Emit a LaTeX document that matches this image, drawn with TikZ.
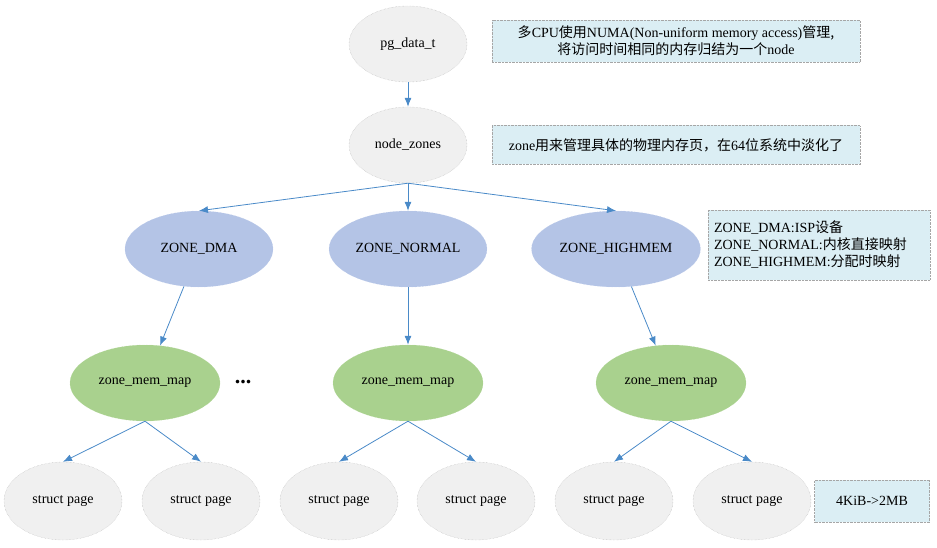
\documentclass[tikz,border=0pt]{standalone}
\usepackage{fontspec}
\setmainfont{Liberation Serif}
\newfontfamily\cjk{Noto Sans CJK SC}
\usetikzlibrary{shapes.geometric,arrows.meta}
\definecolor{arrowblue}{HTML}{4A8AC8}
\definecolor{zoneblue}{HTML}{B4C4E6}
\definecolor{mapgreen}{HTML}{A9D18E}
\definecolor{notefill}{HTML}{DBEEF4}
\tikzset{
  elli/.style={ellipse, draw=gray!60, densely dotted, fill=gray!12, minimum width=118pt, minimum height=76pt, font=\fontsize{14}{16}\selectfont},
  zone/.style={elli, fill=zoneblue, draw=zoneblue, minimum width=148pt},
  map/.style={elli, fill=mapgreen, draw=mapgreen, minimum width=150pt},
  page/.style={elli, minimum height=78pt},
  note/.style={draw=gray!70, densely dotted, fill=notefill, font=\fontsize{14}{17}\selectfont, inner sep=4pt, align=center},
  link/.style={draw=arrowblue, thick, -{Latex[length=9pt,width=7pt]}}
}
\begin{document}
\begin{tikzpicture}[x=1pt,y=-1pt]
\useasboundingbox (0,0) rectangle (937,548);

% memory nodes
\node[elli] (pgdata) at (408,44) {pg\_data\_t};
\node[elli] (zones) at (408,145) {node\_zones};

% zones
\node[zone] (dma) at (199,249) {ZONE\_DMA};
\node[zone, minimum width=150pt] (normal) at (408,249) {ZONE\_NORMAL};
\node[zone] (high) at (616,249) {ZONE\_HIGHMEM};

% mem maps
\node[map] (mapa) at (145,383) {zone\_mem\_map};
\node[map] (mapb) at (408,383) {zone\_mem\_map};
\node[map] (mapc) at (671,383) {zone\_mem\_map};
\node[font=\fontsize{22}{22}\selectfont\bfseries] (dots) at (243,382) {...};

% pages
\foreach \n/\x in {pa/63,pb/201,pc/339,pd/476,pe/614,pf/752}
  \node[page] (\n) at (\x,501) {struct page};

% notes
\node[note, minimum width=368pt, minimum height=42pt] (numa) at (676,41)
  {{\cjk 多}CPU{\cjk 使用}NUMA(Non-uniform memory access){\cjk 管理,}\\{\cjk 将访问时间相同的内存归结为一个}node};
\node[note, minimum width=368pt, minimum height=39pt] (zonenote) at (676,145)
  {zone{\cjk 用来管理具体的物理内存页，在}64{\cjk 位系统中淡化了}};
\node[note, align=left, minimum width=222pt, minimum height=70pt, text width=210pt] (kinds) at (819,245)
  {ZONE\_DMA:ISP{\cjk 设备}\\ZONE\_NORMAL:{\cjk 内核直接映射}\\ZONE\_HIGHMEM:{\cjk 分配时映射}};
\node[note, minimum width=115pt, minimum height=42pt] (size) at (872,501) {4KiB->2MB};

% links
\draw[link] (pgdata) -- (zones);
\draw[link] (zones.south) -- (dma.north);
\draw[link] (zones.south) -- (normal.north);
\draw[link] (zones.south) -- (high.north);
\draw[link] (dma) -- (mapa);
\draw[link] (normal) -- (mapb);
\draw[link] (high) -- (mapc);
\draw[link] (mapa.south) -- (pa.north);
\draw[link] (mapa.south) -- (pb.north);
\draw[link] (mapb.south) -- (pc.north);
\draw[link] (mapb.south) -- (pd.north);
\draw[link] (mapc.south) -- (pe.north);
\draw[link] (mapc.south) -- (pf.north);
\end{tikzpicture}
\end{document}
